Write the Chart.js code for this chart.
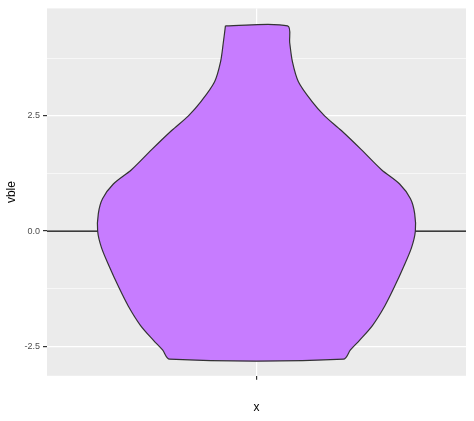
<!DOCTYPE html>
<html><head><meta charset="utf-8">
<script src="https://cdn.jsdelivr.net/npm/chart.js@4"></script>
<style>html,body{margin:0;padding:0;background:#fff}#wrap{width:474px;height:421px}</style>
</head><body><div id="wrap"><canvas id="c"></canvas></div>
<script>
// violin outline: value (y) and half-width (x units, violin centred on x = 1)
const values = [4.45, 4.09, 3.67, 3.24, 2.82, 2.5, 2.18, 1.76, 1.33, 1.02, 0.70, 0.38, 0, -0.36, -0.78, -1.21, -1.63, -2.05, -2.37, -2.58, -2.78];
const halfWidth = [0.089, 0.095, 0.103, 0.120, 0.158, 0.195, 0.243, 0.301, 0.358, 0.410, 0.441, 0.453, 0.455, 0.444, 0.421, 0.395, 0.367, 0.332, 0.295, 0.269, 0.249];
const meanValue = 0.05;
const yTicks = [-2.5, 0.0, 2.5];

const outline = [];
values.forEach((v, i) => outline.push({x: 1 - halfWidth[i], y: v}));
for (let i = values.length - 1; i >= 0; i--) outline.push({x: 1 + halfWidth[i], y: values[i]});
outline.push(outline[0]);

const panelBg = {
  id: 'panelBg',
  beforeDraw(chart) {
    const a = chart.chartArea, ctx = chart.ctx;
    ctx.save(); ctx.fillStyle = '#EBEBEB';
    ctx.fillRect(a.left, a.top, a.right - a.left, a.bottom - a.top);
    ctx.restore();
  }
};

new Chart(document.getElementById('c'), {
  type: 'scatter',
  data: {
    datasets: [
      {data: outline, showLine: true, fill: 'shape', backgroundColor: '#C77CFF', borderColor: '#333333', borderWidth: 1.2, pointRadius: 0, tension: 0.3},
      {data: [{x: 0.4, y: 0}, {x: 1.6, y: 0}], showLine: true, borderColor: '#000', borderWidth: 1.2, pointRadius: 0},
      {data: [{x: 1, y: meanValue}], pointRadius: 3, backgroundColor: '#000', borderColor: '#000'}
    ]
  },
  options: {
    responsive: true, maintainAspectRatio: false, animation: false,
    layout: {padding: {top: 5, right: 8, bottom: 2}},
    plugins: {legend: {display: false}, tooltip: {enabled: false}},
    scales: {
      x: {
        min: 0.4, max: 1.6,
        afterBuildTicks: s => { s.ticks = [{value: 1}]; },
        ticks: {callback: () => ' ', color: '#4d4d4d', font: {size: 9}},
        grid: {color: '#fff', lineWidth: 1.2, tickColor: '#333', tickLength: 4},
        border: {display: false},
        title: {display: true, text: 'x', color: '#000', font: {size: 12}}
      },
      y: {
        min: -3.14, max: 4.83,
        afterBuildTicks: s => { s.ticks = [-2.5, -1.25, 0, 1.25, 2.5, 3.75].map(v => ({value: v})); },
        afterFit: s => { s.width = 47; },
        ticks: {
          color: '#4d4d4d', font: {size: 9},
          callback: v => yTicks.includes(v) ? v.toFixed(1) : ''
        },
        grid: {
          color: '#fff',
          lineWidth: c => yTicks.includes(c.tick.value) ? 1.2 : 0.6,
          tickColor: c => yTicks.includes(c.tick.value) ? '#333' : 'rgba(0,0,0,0)',
          tickLength: 4
        },
        border: {display: false},
        title: {display: true, text: 'vble', color: '#000', font: {size: 12}}
      }
    }
  },
  plugins: [panelBg]
});
</script></body></html>
